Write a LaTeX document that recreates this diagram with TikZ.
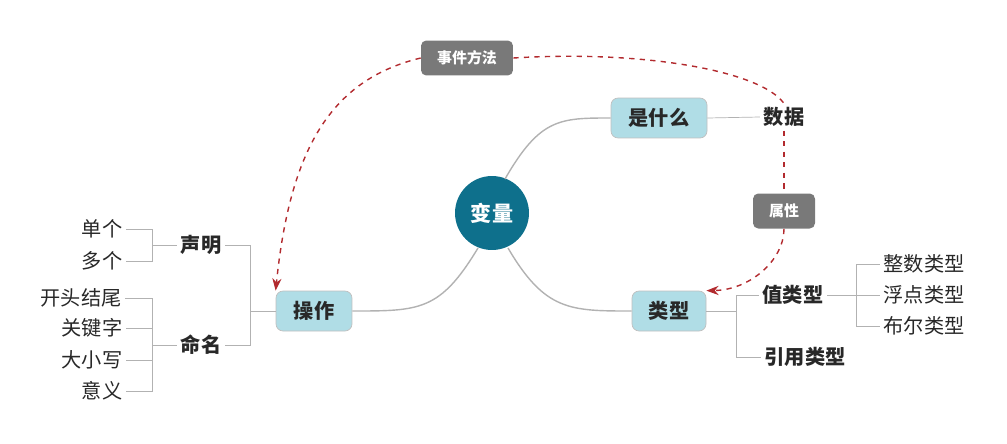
\documentclass[tikz,border=0pt]{standalone}
\usepackage{fontspec}
\setmainfont{Noto Sans CJK SC}
\usetikzlibrary{arrows.meta,positioning,shapes}
\definecolor{teal}{RGB}{14,112,140}
\definecolor{boxblue}{RGB}{176,221,230}
\definecolor{linkred}{RGB}{178,42,46}
\definecolor{txt}{RGB}{40,40,40}
\tikzstyle{topic} = [rounded corners=4pt, draw=gray!50, fill=boxblue, minimum height=0.8cm, text=txt, font=\fontsize{11.5}{14}\selectfont\bfseries]
\tikzstyle{tag} = [rounded corners=3pt, fill=gray!95!black, minimum height=0.7cm, text=white, font=\fontsize{8.5}{10}\selectfont\bfseries]
\tikzstyle{leaf} = [text=txt, inner sep=2pt, font=\fontsize{11.5}{14}\selectfont]
\tikzstyle{sub} = [text=txt, inner sep=2pt, font=\fontsize{11.5}{14}\selectfont\bfseries]
\tikzstyle{branch} = [gray!60, thick]
\tikzstyle{twig} = [gray!60]
\tikzstyle{link} = [linkred, thick, dashed, -{Stealth[length=7pt]}]
\begin{document}
\begin{tikzpicture}[x=0.02cm,y=-0.02cm]
      \useasboundingbox (0,0) rectangle (1007,443);
      % main topics
      \node (var) at (492,213) [circle, fill=teal, minimum size=1.48cm, text=white, font=\fontsize{12}{14}\selectfont\bfseries] {变量};
      \node (what) at (659,118) [topic, minimum width=1.92cm] {是什么};
      \node (type) at (669,311) [topic, minimum width=1.48cm] {类型};
      \node (op) at (314,311) [topic, minimum width=1.52cm] {操作};
      \node (data) at (784,117) [sub] {数据};
      \node (evt) at (467,58) [tag, minimum width=1.84cm] {事件方法};
      \node (attr) at (784,211) [tag, minimum width=1.24cm] {属性};
      % sub topics
      \node (val) at (793,295) [sub] {值类型};
      \node (ref) at (805,357) [sub] {引用类型};
      \node (int) at (924,264) [leaf] {整数类型};
      \node (flt) at (924,295) [leaf] {浮点类型};
      \node (bool) at (924,326) [leaf] {布尔类型};
      \node (decl) at (201,245) [sub] {声明};
      \node (name) at (201,345) [sub] {命名};
      \node (one) at (102,229) [leaf] {单个};
      \node (many) at (102,261) [leaf] {多个};
      \node (ends) at (81,298) [leaf] {开头结尾};
      \node (kw) at (92,328) [leaf] {关键字};
      \node (case) at (92,360) [leaf] {大小写};
      \node (mean) at (102,391) [leaf] {意义};
      % branches
      \draw[branch] (505,179) .. controls (540,118) and (560,118) .. (what.west);
      \draw[branch] (478,248) .. controls (440,311) and (420,311) .. (op.east);
      \draw[branch] (508,248) .. controls (545,311) and (570,311) .. (type.west);
      \draw[twig] (what.east) -- (data.west);
      % type tree
      \draw[twig] (type.east) -- (736,311);
      \draw[twig] (val.west) -| (736,357) -- (ref.west);
      \draw[twig] (val.east) -- (856,295);
      \draw[twig] (int.west) -| (856,326) -- (bool.west);
      \draw[twig] (856,295) -- (flt.west);
      % op tree
      \draw[twig] (op.west) -- (250,311);
      \draw[twig] (decl.east) -| (250,345) -- (name.east);
      \draw[twig] (decl.west) -- (152,245);
      \draw[twig] (one.east) -| (152,261) -- (many.east);
      \draw[twig] (name.west) -- (152,345);
      \draw[twig] (ends.east) -| (152,391) -- (mean.east);
      \draw[twig] (kw.east) -- (152,328);
      \draw[twig] (case.east) -- (152,360);
      % relations
      \draw[link] (evt.west) .. controls (330,80) and (290,150) .. (op.north west);
      \draw[linkred, thick, dashed] (evt.east) .. controls (640,50) and (760,70) .. (data.north);
      \draw[linkred, thick, dashed] (data.south) -- (attr.north);
      \draw[link] (attr.south) .. controls (784,260) and (750,290) .. (type.north east);
\end{tikzpicture}
\end{document}
